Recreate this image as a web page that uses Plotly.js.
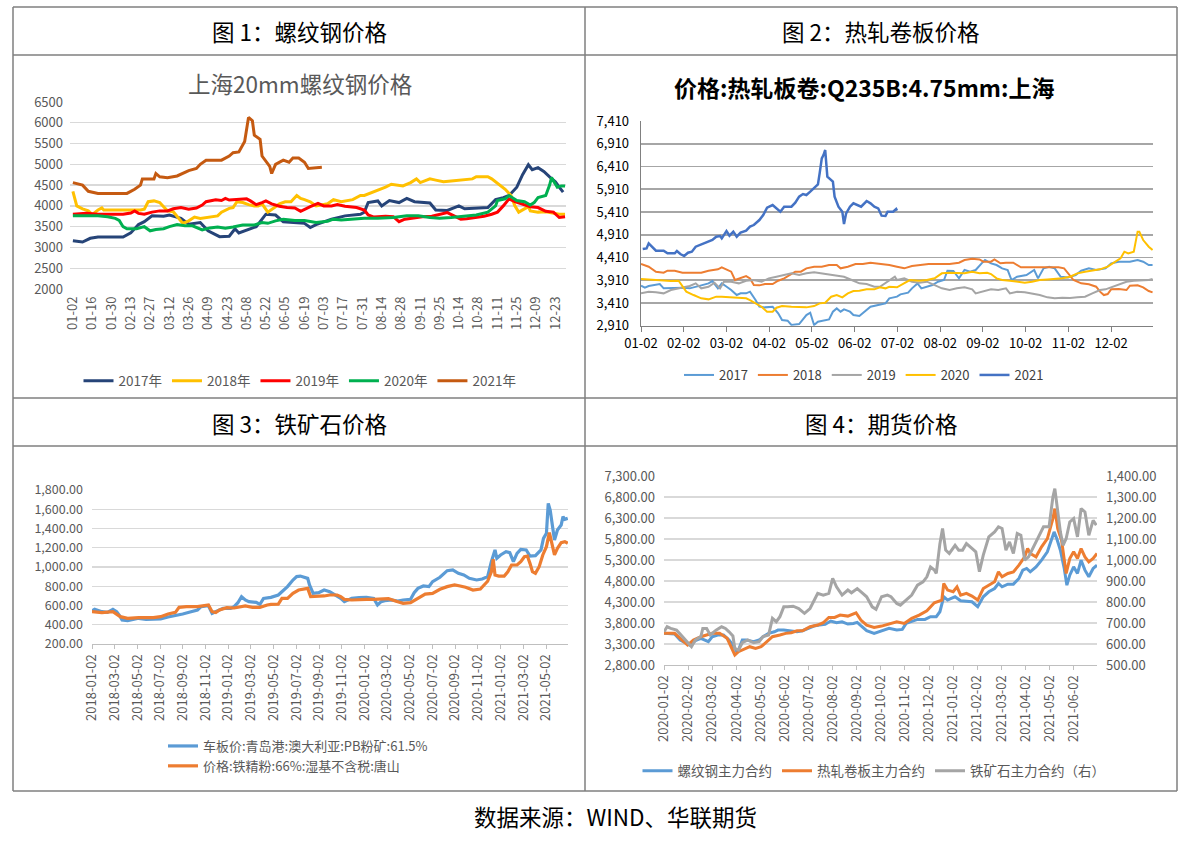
<!DOCTYPE html>
<html><head><meta charset="utf-8">
<script src="https://cdn.plot.ly/plotly-3.0.1.min.js"></script>
<style>html,body{margin:0;padding:0;background:#fff;}#chart{width:1191px;height:849px;}</style>
</head><body><div id="chart"></div>
<script>
// ---------- Panel 1: 上海20mm螺纹钢价格 (x = trading-day index within year) ----------
const p1TickText = ['01-02','01-16','01-30','02-13','02-27','03-12','03-26','04-09','04-23','05-08','05-22','06-05','06-19','07-03','07-17','07-31','08-14','08-28','09-11','09-25','10-14','10-28','11-11','11-25','12-09','12-23'];
const r2017Day = [0,5,9,13,26,30,34,37,41,47,50,56,60,66,70,76,81,84,86,92,95,100,105,109,120,123,126,134,141,149,151,153,158,160,164,169,173,177,185,188,194,200,203,215,219,223,226,230,233,236,238,241,244,247,250,252,254];
const r2017Val = [3160,3130,3220,3250,3250,3350,3550,3620,3760,3750,3780,3700,3560,3600,3400,3260,3270,3450,3350,3450,3500,3800,3780,3620,3580,3480,3550,3680,3760,3800,3850,4080,4120,4000,4130,4080,4180,4100,4070,3900,3890,4000,3930,3960,4150,4200,4250,4450,4750,4990,4870,4920,4830,4700,4580,4450,4330];
const r2018Day = [0,1,2,5,8,10,13,15,16,26,35,37,39,42,45,47,49,52,55,57,60,63,66,69,73,75,77,81,83,85,88,91,94,96,98,100,101,105,107,110,113,116,118,120,123,126,129,132,135,139,145,149,151,154,158,162,165,168,171,175,178,180,185,188,192,196,200,203,207,209,215,217,220,224,227,229,231,233,236,237,241,245,249,252,255];
const r2018Val = [4350,4200,4000,3930,3880,3790,3900,3950,3900,3900,3900,3920,4100,4120,4080,3980,3880,3860,3700,3580,3640,3730,3700,3720,3760,3760,3850,3940,3960,4100,4080,4030,4000,4000,4050,3900,3850,3980,4050,4100,4100,4250,4180,4150,4100,4000,4030,4050,4150,4100,4150,4250,4250,4300,4380,4450,4520,4500,4480,4560,4650,4560,4650,4620,4580,4600,4620,4640,4650,4700,4700,4650,4550,4400,4250,4000,3850,3900,3980,3880,3850,3860,3830,3800,3800];
const r2019Day = [0,7,13,26,30,32,34,37,41,45,49,52,56,60,64,67,69,72,74,77,79,81,84,88,90,92,95,98,100,103,107,111,115,118,120,123,127,130,134,137,141,147,151,153,156,162,166,169,172,177,181,186,190,194,198,201,204,209,213,217,220,223,226,229,232,237,241,245,249,252,255];
const r2019Val = [3800,3820,3800,3800,3830,3880,3820,3800,3850,3880,3880,3930,3960,3920,3950,4020,4100,4120,4150,4130,4180,4140,4150,4160,4170,4120,4030,4080,4120,4050,3990,3960,3950,3870,3920,3980,4060,4000,4000,4030,3990,3960,3900,3780,3730,3750,3740,3620,3680,3720,3740,3750,3800,3840,3750,3680,3690,3720,3750,3800,3850,4000,4170,4100,4050,3980,3960,3870,3850,3720,3740];
const r2020Day = [0,13,18,22,24,26,28,33,37,40,43,47,50,54,58,62,67,71,75,79,83,88,94,98,101,105,109,115,120,126,132,135,139,145,151,158,166,173,179,185,190,196,203,209,215,219,220,224,226,230,234,237,239,241,245,247,248,251,253,255];
const r2020Val = [3760,3760,3740,3700,3650,3500,3450,3450,3500,3400,3430,3450,3500,3550,3520,3520,3420,3470,3490,3460,3490,3540,3540,3600,3580,3640,3680,3650,3650,3600,3630,3680,3660,3680,3700,3700,3720,3760,3760,3720,3700,3720,3760,3780,3850,4000,4130,4170,4250,4130,4100,4020,4080,4200,4250,4500,4680,4450,4480,4480];
const r2021Day = [0,5,8,13,18,28,32,35,36,42,43,45,49,54,60,64,66,69,77,81,83,86,89,91,93,94,97,98,102,103,105,109,112,114,117,120,122,129];
const r2021Val = [4560,4500,4350,4300,4300,4300,4400,4500,4650,4650,4780,4700,4680,4720,4850,4900,5000,5100,5100,5200,5280,5300,5550,6130,6050,5700,5600,5200,4950,4780,5000,5100,5050,5150,5150,5050,4900,4930];

// ---------- Panel 2: 热轧板卷 (x = months after 01-02) ----------
const p2TickText = ['01-02','02-02','03-02','04-02','05-02','06-02','07-02','08-02','09-02','10-02','11-02','12-02'];
const h2017M = [0,0.09,0.18,0.31,0.44,0.53,0.79,1.01,1.14,1.32,1.41,1.58,1.67,1.8,1.89,1.98,2.11,2.24,2.33,2.46,2.55,2.68,2.77,2.9,3.08,3.21,3.3,3.43,3.52,3.7,3.79,3.87,3.96,4.05,4.14,4.27,4.4,4.49,4.58,4.67,4.75,4.89,4.97,5.11,5.24,5.37,5.55,5.72,5.81,5.99,6.07,6.25,6.34,6.47,6.56,6.69,6.82,6.95,7.09,7.17,7.31,7.44,7.57,7.7,7.83,7.97,8.05,8.19,8.32,8.45,8.58,8.67,8.8,9.02,9.2,9.29,9.42,9.55,9.68,9.82,9.99,10.17,10.3,10.48,10.65,10.87,11,11.18,11.44,11.62,11.75,11.88,11.97];
const h2017V = [3789,3745,3782,3804,3826,3731,3745,3745,3731,3767,3796,3840,3892,3731,3840,3782,3694,3584,3621,3621,3658,3474,3328,3313,3328,3181,3035,3020,2925,2947,3049,3144,3196,2925,2998,3020,3049,3218,3291,3218,3269,3218,3144,3123,3218,3328,3364,3401,3511,3548,3599,3636,3731,3840,3731,3767,3804,3877,3914,4119,4112,3950,4134,4097,4134,4280,4354,4280,4244,4170,4134,3914,3987,4024,4134,3950,4170,4207,4170,3987,3972,4024,4119,4170,4134,4170,4280,4317,4317,4354,4317,4244,4244];
const h2018M = [0,0.18,0.35,0.53,0.62,0.79,0.97,1.41,1.58,1.8,1.89,2.02,2.11,2.2,2.33,2.46,2.55,2.64,2.77,2.9,3.08,3.21,3.35,3.48,3.61,3.74,3.87,4.05,4.23,4.4,4.58,4.67,4.84,5.02,5.19,5.37,5.63,5.81,5.99,6.16,6.34,6.51,6.73,6.95,7.22,7.44,7.57,7.75,7.92,8.01,8.19,8.27,8.41,8.54,8.71,8.89,9.07,9.24,9.42,9.6,9.77,9.9,9.99,10.12,10.3,10.48,10.65,10.74,10.83,10.92,11,11.18,11.36,11.44,11.62,11.75,11.88,11.97];
const h2018V = [4266,4207,4097,4075,4119,4119,4075,4075,4119,4149,4193,4134,4097,3914,3951,4002,3951,3804,3797,3826,3826,3899,3951,4024,4097,4097,4171,4207,4207,4244,4244,4171,4207,4266,4266,4295,4266,4244,4207,4171,4222,4244,4266,4266,4266,4295,4354,4383,4368,4317,4317,4368,4281,4295,4295,4193,4193,4207,4207,4193,4193,4171,4061,3914,3841,3819,3767,3658,3584,3606,3709,3716,3694,3789,3797,3753,3672,3643];
const h2019M = [0,0.18,0.35,0.53,0.7,0.88,1.01,1.14,1.28,1.41,1.58,1.72,1.85,1.94,2.11,2.29,2.46,2.64,2.82,2.99,3.17,3.35,3.52,3.7,3.87,4.05,4.23,4.4,4.58,4.75,4.93,5.11,5.28,5.46,5.59,5.72,5.81,5.94,5.99,6.16,6.34,6.51,6.69,6.87,7.04,7.22,7.39,7.57,7.75,7.83,8.01,8.19,8.36,8.54,8.63,8.8,8.98,9.15,9.33,9.51,9.68,9.86,10.04,10.21,10.39,10.56,10.74,10.87,11,11.18,11.36,11.53,11.71,11.88,11.97];
const h2019V = [3621,3658,3643,3621,3694,3731,3767,3782,3841,3731,3767,3855,3731,3877,3877,3841,3899,3914,3877,3951,3987,4024,4061,4024,4061,4083,4061,4024,4002,3987,3914,3841,3826,3767,3767,3855,3899,3987,3914,3951,3877,3855,3877,3804,3731,3694,3731,3753,3709,3621,3672,3709,3694,3731,3621,3658,3643,3621,3584,3533,3511,3526,3518,3533,3548,3621,3694,3709,3753,3804,3877,3899,3899,3914,3936];
const h2020M = [0,0.35,0.7,0.88,0.97,1.06,1.23,1.41,1.58,1.76,1.89,2.07,2.24,2.46,2.55,2.68,2.82,2.95,3.08,3.17,3.3,3.52,3.7,3.87,4.05,4.18,4.31,4.45,4.58,4.71,4.84,4.97,5.11,5.28,5.46,5.59,5.72,5.81,5.99,6.16,6.29,6.51,6.69,6.87,7.04,7.22,7.39,7.57,7.75,7.92,8.1,8.19,8.32,8.45,8.63,8.8,8.98,9.15,9.33,9.51,9.68,9.86,10.04,10.21,10.39,10.56,10.74,10.92,11.09,11.22,11.31,11.4,11.53,11.62,11.66,11.75,11.88,11.97];
const h2020V = [3936,3914,3892,3899,3767,3658,3584,3511,3489,3548,3548,3533,3533,3511,3474,3401,3328,3218,3218,3306,3342,3328,3313,3313,3342,3401,3416,3548,3584,3533,3621,3672,3680,3709,3709,3753,3731,3767,3753,3841,3914,3899,3914,3951,4061,4075,4075,4061,4097,4061,4075,4046,3951,3914,3899,3877,3855,3877,3914,3928,3936,3951,3987,4061,4097,4119,4149,4207,4317,4390,4537,4500,4537,4977,4977,4793,4647,4574];
const h2021M = [0.04,0.13,0.18,0.26,0.35,0.53,0.62,0.79,0.84,0.92,1.01,1.1,1.19,1.28,1.41,1.58,1.67,1.76,1.85,1.89,2.0,2.07,2.16,2.24,2.33,2.46,2.55,2.64,2.77,2.86,2.95,3.08,3.17,3.26,3.35,3.52,3.61,3.7,3.79,3.87,3.96,4.05,4.14,4.18,4.23,4.27,4.31,4.36,4.4,4.49,4.53,4.62,4.71,4.75,4.8,4.89,4.97,5.06,5.15,5.28,5.37,5.46,5.55,5.63,5.72,5.77,5.9,5.97,5.99];
const h2021V = [4596,4610,4720,4647,4559,4559,4500,4500,4552,4486,4442,4515,4537,4647,4698,4757,4794,4867,4882,4830,4991,4889,4977,4867,4955,4999,5087,5123,5233,5343,5504,5563,5490,5416,5527,5527,5614,5746,5805,5783,5856,5944,6017,6259,6589,6662,6772,6186,6149,6076,5746,5527,5416,5145,5380,5527,5600,5563,5527,5651,5600,5527,5490,5329,5321,5416,5416,5475,5439];

// ---------- Panel 3: 铁矿石价格 (x = months after 2018-01-02) ----------
const p3TickText = ['2018-01-02','2018-03-02','2018-05-02','2018-07-02','2018-09-02','2018-11-02','2019-01-02','2019-03-02','2019-05-02','2019-07-02','2019-09-02','2019-11-02','2020-01-02','2020-03-02','2020-05-02','2020-07-02','2020-09-02','2020-11-02','2021-01-02','2021-03-02','2021-05-02'];
const pbM = [0,0.23,0.87,1.36,1.84,2.17,2.49,2.65,3.14,3.46,4.11,4.76,5.4,6.05,6.7,7.35,7.99,8.64,9.29,9.61,9.94,10.26,10.58,10.9,11.23,11.55,12.2,12.52,12.85,13.17,13.5,13.82,14.47,14.79,15.11,15.76,16.41,16.89,17.22,17.7,18.03,18.35,18.67,19.0,19.16,19.48,19.97,20.45,20.94,21.42,21.91,22.23,22.88,23.53,24.17,24.82,25.15,25.47,25.79,26.44,26.93,27.41,28.06,28.38,28.71,29.19,29.68,30.0,30.65,31.29,31.78,32.27,32.75,33.24,33.56,33.88,34.37,34.85,35.18,35.5,35.66,35.99,36.47,36.8,37.12,37.44,37.77,38.25,38.58,39.06,39.55,39.77,40.03,40.19,40.36,40.58,40.74,41.0,41.33,41.49,41.65,41.91];
const pbV = [546,560,536,529,560,536,484,449,442,453,467,456,456,460,480,494,512,532,553,588,595,598,519,536,553,570,570,588,629,692,657,640,633,612,674,685,709,761,796,865,900,906,893,882,813,726,733,761,744,709,674,640,674,681,685,674,605,640,650,657,646,657,664,733,778,803,796,848,893,962,969,934,917,882,872,865,875,900,1055,1177,1090,1125,1159,1149,1055,1142,1183,1177,1114,1118,1177,1298,1350,1661,1592,1384,1280,1384,1436,1523,1495,1506];
const jjfM = [0,0.87,1.84,2.49,3.14,4.11,5.4,6.05,6.7,7.35,7.67,8.32,9.29,9.61,10.26,10.58,10.9,11.23,11.88,12.52,13.17,13.5,14.14,14.79,15.44,15.76,16.41,16.73,17.22,17.7,18.2,18.67,19.0,19.26,19.97,20.45,20.94,21.59,21.91,22.23,22.88,23.53,24.17,24.82,25.47,26.11,26.93,27.41,28.06,28.71,29.35,30.0,30.65,31.29,31.94,32.43,32.91,33.56,34.21,34.85,35.18,35.34,35.5,35.83,36.31,36.63,36.96,37.44,37.77,38.09,38.35,38.58,38.8,39.06,39.39,39.71,40.03,40.29,40.52,40.74,41.0,41.33,41.65,41.91];
const jjfV = [536,526,536,484,467,474,474,484,512,529,581,588,588,595,605,536,526,553,577,574,588,595,581,581,605,612,615,674,674,726,761,768,778,692,692,699,709,709,692,664,657,664,664,664,664,671,640,622,629,674,719,726,768,796,813,803,789,761,771,852,951,1080,917,906,906,951,1021,1021,1055,1107,1114,1038,951,934,1003,1125,1211,1357,1246,1125,1194,1253,1263,1246];

// ---------- Panel 4: 期货价格 (x = months after 2020-01-02) ----------
const p4TickText = ['2020-01-02','2020-02-02','2020-03-02','2020-04-02','2020-05-02','2020-06-02','2020-07-02','2020-08-02','2020-09-02','2020-10-02','2020-11-02','2020-12-02','2021-01-02','2021-02-02','2021-03-02','2021-04-02','2021-05-02','2021-06-02'];
const rbM = [0,0.2,0.44,0.67,0.9,1.06,1.3,1.53,1.84,2.0,2.23,2.47,2.7,2.86,3.02,3.09,3.25,3.41,3.72,3.95,4.11,4.34,4.58,4.73,4.97,5.28,5.52,5.75,5.98,6.22,6.45,6.69,6.92,7.16,7.39,7.63,7.86,8.02,8.17,8.41,8.72,9.03,9.34,9.66,9.89,10.05,10.28,10.52,10.83,11.06,11.3,11.45,11.61,11.77,11.92,12.08,12.31,12.55,12.78,13.02,13.25,13.48,13.72,13.88,14.03,14.27,14.5,14.73,14.89,15.05,15.2,15.44,15.67,15.91,16.06,16.19,16.3,16.45,16.61,16.72,16.84,17.0,17.16,17.31,17.47,17.63,17.81,17.97];
const rbV = [3553,3553,3537,3394,3331,3275,3378,3434,3355,3473,3513,3513,3394,3275,3117,3156,3394,3394,3355,3394,3473,3553,3592,3632,3632,3616,3592,3616,3672,3727,3751,3767,3846,3806,3830,3775,3790,3814,3735,3616,3553,3616,3672,3632,3648,3790,3830,3885,3885,3949,3949,4068,4424,4345,4384,4424,4329,4321,4305,4187,4424,4543,4622,4741,4662,4725,4725,4860,5058,5098,5018,5137,5296,5494,5731,5969,5811,5533,5098,4701,4939,5137,4979,5296,5058,4900,5098,5177];
const hcM = [0,0.44,0.75,0.98,1.22,1.53,2.0,2.31,2.62,2.86,2.94,3.09,3.33,3.56,3.8,4.03,4.27,4.5,4.81,5.05,5.28,5.52,5.75,6.06,6.38,6.61,6.84,7.08,7.31,7.63,7.97,8.17,8.41,8.72,9.03,9.34,9.66,9.97,10.28,10.59,10.91,11.22,11.53,11.61,11.77,12.0,12.16,12.31,12.55,12.78,13.02,13.25,13.48,13.72,13.88,14.03,14.27,14.5,14.73,14.97,15.09,15.2,15.44,15.67,15.91,16.14,16.22,16.34,16.5,16.61,16.69,16.84,17.0,17.16,17.31,17.47,17.63,17.81,17.97];
const hcV = [3553,3553,3394,3275,3394,3473,3553,3553,3434,3156,3038,3117,3172,3236,3196,3236,3355,3473,3513,3553,3568,3616,3616,3711,3751,3806,3933,3933,3988,3964,4044,3870,3751,3695,3727,3775,3830,3790,3909,3988,4091,4282,4345,4741,4583,4543,4662,4464,4504,4440,4345,4622,4701,4781,5018,4900,4979,5018,5177,5375,5573,5454,5375,5613,5811,6286,6524,6048,5771,5375,4979,5335,5494,5335,5573,5375,5256,5335,5454];
const orM = [0,0.13,0.28,0.52,0.67,0.83,0.98,1.14,1.3,1.53,1.61,1.77,1.92,2.16,2.39,2.55,2.7,2.86,2.94,3.09,3.25,3.48,3.72,3.95,4.11,4.34,4.5,4.66,4.81,4.97,5.13,5.36,5.59,5.83,6.06,6.22,6.38,6.61,6.84,7.0,7.16,7.39,7.63,7.78,8.02,8.25,8.41,8.64,8.8,9.03,9.27,9.42,9.66,9.81,10.05,10.28,10.52,10.75,10.91,11.06,11.22,11.3,11.45,11.56,11.69,11.84,12.08,12.23,12.39,12.55,12.78,12.94,13.09,13.25,13.48,13.72,13.88,14.03,14.19,14.34,14.5,14.66,14.81,14.97,15.13,15.36,15.52,15.75,15.98,16.14,16.22,16.34,16.45,16.56,16.69,16.84,17.0,17.16,17.31,17.47,17.63,17.81,17.94];
const orV = [658,682,674,666,647,627,606,587,619,635,674,674,643,666,682,674,658,638,579,571,606,619,606,611,635,643,722,706,730,777,777,780,769,746,769,809,841,833,841,912,872,833,857,844,864,841,825,777,765,825,833,825,793,785,809,833,880,896,920,967,952,936,1078,1150,1047,1031,1070,1047,1047,1078,1055,1039,944,1023,1110,1134,1158,1150,1047,1086,1031,1126,1118,999,1015,1070,1110,1158,1158,1300,1340,1221,1134,1070,1102,1181,1197,1110,1245,1229,1118,1189,1166];

// ---------- layout helpers ----------
const W = 1191, H = 849;
const FF = "'Noto Sans CJK SC', 'Noto Sans', sans-serif";
const px = v => v / W;
const py = v => 1 - v / H;
const GRAY = '#595959';

function tr(x, y, name, color, width, xa, ya, lg) {
  return {x: x, y: y, name: name, type: 'scatter', mode: 'lines',
    line: {color: color, width: width}, xaxis: xa, yaxis: ya, legend: lg, hoverinfo: 'skip'};
}
const data = [
  tr(r2017Day, r2017Val, '2017年', '#264478', 3, 'x', 'y', 'legend'),
  tr(r2018Day, r2018Val, '2018年', '#FFC000', 3, 'x', 'y', 'legend'),
  tr(r2019Day, r2019Val, '2019年', '#FF0000', 3, 'x', 'y', 'legend'),
  tr(r2020Day, r2020Val, '2020年', '#00B050', 3, 'x', 'y', 'legend'),
  tr(r2021Day, r2021Val, '2021年', '#C55A11', 3, 'x', 'y', 'legend'),
  tr(h2017M, h2017V, '2017', '#5B9BD5', 2, 'x2', 'y2', 'legend2'),
  tr(h2018M, h2018V, '2018', '#ED7D31', 2, 'x2', 'y2', 'legend2'),
  tr(h2019M, h2019V, '2019', '#A5A5A5', 2, 'x2', 'y2', 'legend2'),
  tr(h2020M, h2020V, '2020', '#FFC000', 2, 'x2', 'y2', 'legend2'),
  tr(h2021M, h2021V, '2021', '#4472C4', 2.5, 'x2', 'y2', 'legend2'),
  tr(pbM, pbV, '车板价:青岛港:澳大利亚:PB粉矿:61.5%', '#5B9BD5', 3.2, 'x3', 'y3', 'legend3'),
  tr(jjfM, jjfV, '价格:铁精粉:66%:湿基不含税:唐山', '#ED7D31', 3.2, 'x3', 'y3', 'legend3'),
  tr(rbM, rbV, '螺纹钢主力合约', '#5B9BD5', 3, 'x4', 'y4', 'legend4'),
  tr(hcM, hcV, '热轧卷板主力合约', '#ED7D31', 3, 'x4', 'y4', 'legend4'),
  tr(orM, orV, '铁矿石主力合约（右）', '#A5A5A5', 3, 'x4', 'y5', 'legend4')
];

const tf = (size, color) => ({family: FF, size: size, color: color});
const baseAx = {zeroline: false, fixedrange: true};

const layout = {
  width: W, height: H, margin: {l: 0, r: 0, t: 0, b: 0, pad: 0},
  paper_bgcolor: '#fff', plot_bgcolor: 'rgba(0,0,0,0)',
  font: {family: FF, color: GRAY},
  hovermode: false,
  // Panel 1
  xaxis: Object.assign({}, baseAx, {domain: [px(70), px(566)], anchor: 'y', range: [-1.5, 255.5],
    tickmode: 'array', tickvals: p1TickText.map((t, i) => i * 10), ticktext: p1TickText,
    tickangle: -90, tickfont: tf(13, GRAY), showgrid: false, showline: false, ticks: '', ticklabelstandoff: 4}),
  yaxis: Object.assign({}, baseAx, {domain: [py(289), py(102)], anchor: 'x', range: [2000, 6500],
    tick0: 2000, dtick: 500, gridcolor: '#d9d9d9', gridwidth: 1.3, tickfont: tf(13, GRAY), ticklabelstandoff: 6, showline: false}),
  // Panel 2
  xaxis2: Object.assign({}, baseAx, {domain: [px(641), px(1153)], anchor: 'y2', range: [0, 11.98],
    tickmode: 'array', tickvals: p2TickText.map((t, i) => i), ticktext: p2TickText, tickangle: 0,
    tickfont: tf(13, '#000'), showgrid: false, showline: true, linecolor: '#808080', linewidth: 1.3,
    ticks: 'outside', ticklen: 5, tickcolor: '#808080', tickwidth: 1}),
  yaxis2: Object.assign({}, baseAx, {domain: [py(325.7), py(121)], anchor: 'x2', range: [2910, 7410],
    tick0: 2910, dtick: 500, tickformat: ',d', gridcolor: '#a6a6a6', gridwidth: 1.6,
    showline: true, linecolor: '#808080', linewidth: 1.3, tickfont: tf(13, '#000'), ticklabelstandoff: 8}),
  // Panel 3
  xaxis3: Object.assign({}, baseAx, {domain: [px(92), px(568)], anchor: 'y3', range: [0, 41.93],
    tickmode: 'array', tickvals: p3TickText.map((t, i) => i * 2), ticktext: p3TickText, tickangle: -90,
    tickfont: tf(13, GRAY), showgrid: false, showline: true, linecolor: '#bfbfbf', linewidth: 1,
    ticks: 'outside', ticklen: 4, tickcolor: '#bfbfbf'}),
  yaxis3: Object.assign({}, baseAx, {domain: [py(644), py(490)], anchor: 'x3', range: [200, 1800],
    tick0: 200, dtick: 200, tickformat: ',.2f', gridcolor: '#d9d9d9', gridwidth: 1.3,
    tickfont: tf(12.5, GRAY), ticklabelstandoff: 8, showline: false}),
  // Panel 4
  xaxis4: Object.assign({}, baseAx, {domain: [px(664), px(1097)], anchor: 'y4', range: [0, 17.97],
    tickmode: 'array', tickvals: p4TickText.map((t, i) => i), ticktext: p4TickText, tickangle: -90,
    tickfont: tf(13, GRAY), showgrid: false, showline: true, linecolor: '#bfbfbf', linewidth: 1,
    ticks: 'outside', ticklen: 4, tickcolor: '#bfbfbf'}),
  yaxis4: Object.assign({}, baseAx, {domain: [py(665), py(476)], anchor: 'x4', range: [2800, 7300],
    tick0: 2800, dtick: 500, tickformat: ',.2f', gridcolor: '#d9d9d9', gridwidth: 1.3,
    tickfont: tf(13, GRAY), ticklabelstandoff: 8, showline: false}),
  yaxis5: Object.assign({}, baseAx, {overlaying: 'y4', anchor: 'x4', side: 'right', range: [500, 1400],
    tick0: 500, dtick: 100, tickformat: ',.2f', showgrid: false, showline: false,
    tickfont: tf(13, GRAY), ticklabelstandoff: 8}),
  legend: {x: px(300), y: py(381), xanchor: 'center', yanchor: 'middle', orientation: 'h',
    font: tf(13.5, GRAY), bgcolor: 'rgba(0,0,0,0)', itemwidth: 30},
  legend2: {x: px(864), y: py(375), xanchor: 'center', yanchor: 'middle', orientation: 'h',
    font: tf(13, '#404040'), bgcolor: 'rgba(0,0,0,0)', itemwidth: 30},
  legend3: {x: px(163), y: py(756), xanchor: 'left', yanchor: 'middle', orientation: 'v',
    font: tf(13, GRAY), bgcolor: 'rgba(0,0,0,0)', itemwidth: 30, tracegroupgap: 0},
  legend4: {x: px(874), y: py(771), xanchor: 'center', yanchor: 'middle', orientation: 'h',
    font: tf(13.5, GRAY), bgcolor: 'rgba(0,0,0,0)', itemwidth: 30},
  annotations: [
    {text: '图 1：螺纹钢价格', x: px(299), y: py(31), font: tf(22.5, '#000')},
    {text: '图 2：热轧卷板价格', x: px(881), y: py(31), font: tf(22.5, '#000')},
    {text: '图 3：铁矿石价格', x: px(299), y: py(423), font: tf(22.5, '#000')},
    {text: '图 4：期货价格', x: px(881), y: py(423), font: tf(22.5, '#000')},
    {text: '数据来源：WIND、华联期货', x: px(615), y: py(816), font: tf(22.5, '#000')},
    {text: '上海20mm螺纹钢价格', x: px(300), y: py(83), font: tf(22.5, GRAY)},
    {text: '<b>价格:热轧板卷:Q235B:4.75mm:上海</b>', x: px(864), y: py(87), font: tf(23, '#000')}
  ].map(a => Object.assign({xref: 'paper', yref: 'paper', showarrow: false, xanchor: 'center', yanchor: 'middle'}, a)),
  shapes: []
};

// table frame lines
const hLines = [7, 55, 398, 446, 791];
const vLines = [13, 585, 1177];
hLines.forEach(yv => layout.shapes.push({type: 'line', xref: 'paper', yref: 'paper',
  x0: px(13), x1: px(1177), y0: py(yv), y1: py(yv), line: {color: '#7f7f7f', width: 1.5}}));
vLines.forEach(xv => layout.shapes.push({type: 'line', xref: 'paper', yref: 'paper',
  x0: px(xv), x1: px(xv), y0: py(7), y1: py(791), line: {color: '#7f7f7f', width: 1.5}}));

Plotly.newPlot('chart', data, layout, {displayModeBar: false, staticPlot: true});
</script></body></html>
